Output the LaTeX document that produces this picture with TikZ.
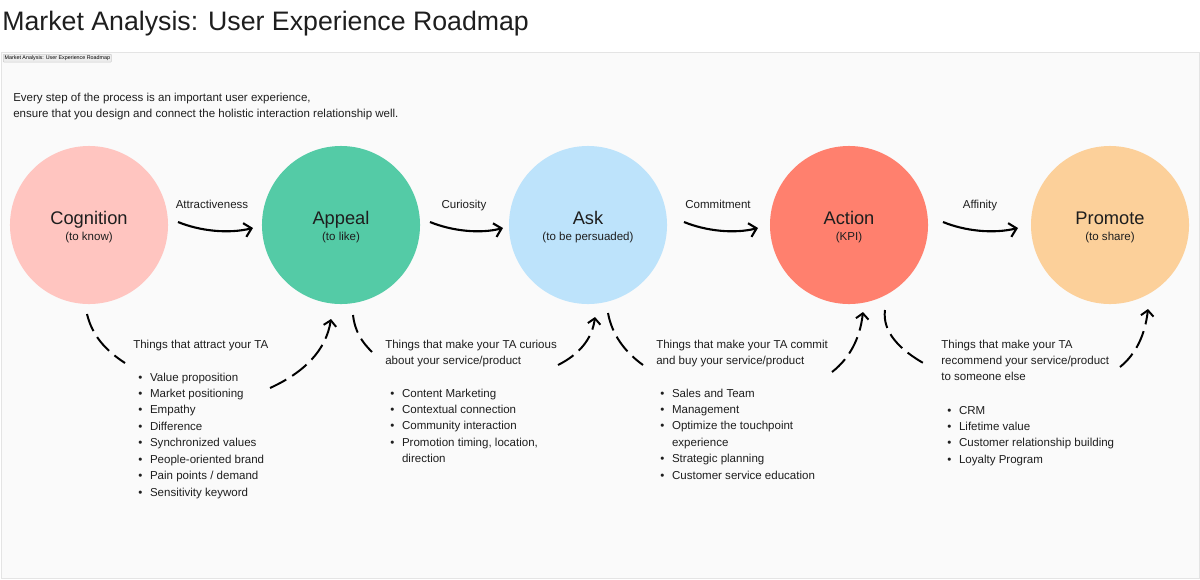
\documentclass[tikz,border=0pt]{standalone}
\usepackage{fontspec}
\setmainfont{Liberation Sans}
\usetikzlibrary{arrows.meta}
\definecolor{cogfill}{HTML}{FFC5C0}
\definecolor{appfill}{HTML}{54CBA6}
\definecolor{askfill}{HTML}{BDE3FB}
\definecolor{actfill}{HTML}{FF806E}
\definecolor{profill}{HTML}{FCD09A}
\definecolor{ink}{HTML}{1E1E1E}
\definecolor{panelbg}{HTML}{FAFAFA}
\definecolor{panelline}{HTML}{E4E4E4}
\newcommand{\notefont}{\fontsize{8.2}{11.7}\selectfont}

\begin{document}
\begin{tikzpicture}[x=0.025cm,y=-0.025cm,
  stage/.style={circle,inner sep=0,minimum size=3.95cm,draw=none},
  stagename/.style={anchor=base,inner sep=0,text=ink,font=\fontsize{13}{15}\selectfont},
  stagesub/.style={anchor=base,inner sep=0,text=ink,font=\notefont},
  note/.style={anchor=base west,inner sep=0,text=ink,font=\notefont},
  flow/.style={line width=1.5pt,-{Straight Barb[length=5pt,width=10pt]}},
  loopin/.style={line width=1.4pt,dash pattern=on 13pt off 5pt},
  loopout/.style={line width=1.4pt,dash pattern=on 13pt off 5pt,-{Straight Barb[length=4pt,width=9pt]}}]
\useasboundingbox (0,0) rectangle (1200,579);

% page and board
\node[anchor=base west,inner sep=0,text=ink,font=\fontsize{19}{22}\selectfont] (title) at (2,30)
  {Market Analysis: User Experience Roadmap};
\draw[panelline,fill=panelbg] (1,52) rectangle (1199,578);
\node[anchor=north west,inner sep=1pt,fill=black!7,draw=black!20,rounded corners=0.5pt,
  font=\fontsize{3.8}{4}\selectfont] (tab) at (3,54) {Market Analysis: User Experience Roadmap};
\node[note] (intro) at (13,101) {\begin{tabular}[t]{@{}l@{}}
  Every step of the process is an important user experience,\\
  ensure that you design and connect the holistic interaction relationship well.
  \end{tabular}};

% stages
\node[stage,fill=cogfill] (cog) at (89,225) {};
\node[stagename] (cogname) at (89,224) {Cognition};
\node[stagesub] (cogsub) at (89,240) {(to know)};
\node[stage,fill=appfill] (app) at (341,225) {};
\node[stagename] (appname) at (341,224) {Appeal};
\node[stagesub] (appsub) at (341,240) {(to like)};
\node[stage,fill=askfill] (ask) at (588,225) {};
\node[stagename] (askname) at (588,224) {Ask};
\node[stagesub] (asksub) at (588,240) {(to be persuaded)};
\node[stage,fill=actfill] (act) at (849,225) {};
\node[stagename] (actname) at (849,224) {Action};
\node[stagesub] (actsub) at (849,240) {(KPI)};
\node[stage,fill=profill] (pro) at (1110,225) {};
\node[stagename] (proname) at (1110,224) {Promote};
\node[stagesub] (prosub) at (1110,240) {(to share)};

% forward arrows
\node[stagesub] (attr) at (212,208) {Attractiveness};
\coordinate (f1a) at (178,222);
\coordinate (f1b) at (253,228);
\draw[flow] (f1a) .. controls (200,231) and (228,234) .. (f1b);
\node[stagesub] (curi) at (464,208) {Curiosity};
\coordinate (f2a) at (430,222);
\coordinate (f2b) at (503,228);
\draw[flow] (f2a) .. controls (452,231) and (480,234) .. (f2b);
\node[stagesub] (comm) at (718,208) {Commitment};
\coordinate (f3a) at (684,222);
\coordinate (f3b) at (758,228);
\draw[flow] (f3a) .. controls (706,231) and (734,234) .. (f3b);
\node[stagesub] (affi) at (980,208) {Affinity};
\coordinate (f4a) at (943,222);
\coordinate (f4b) at (1018,228);
\draw[flow] (f4a) .. controls (965,231) and (993,234) .. (f4b);

% loops under the stages
\coordinate (l1a) at (87,314);
\coordinate (l1b) at (125,363);
\draw[loopin] (l1a) .. controls (92,335) and (105,350) .. (l1b);
\coordinate (l1c) at (270,388);
\coordinate (l1d) at (331,319);
\draw[loopout] (l1c) .. controls (305,372) and (326,350) .. (l1d);

\coordinate (l2a) at (353,315);
\coordinate (l2b) at (372,352);
\draw[loopin] (l2a) .. controls (355,332) and (362,342) .. (l2b);
\coordinate (l2c) at (558,365);
\coordinate (l2d) at (595,317);
\draw[loopout] (l2c) .. controls (578,355) and (592,340) .. (l2d);

\coordinate (l3a) at (608,313);
\coordinate (l3b) at (643,365);
\draw[loopin] (l3a) .. controls (612,335) and (625,352) .. (l3b);
\coordinate (l3c) at (832,372);
\coordinate (l3d) at (863,312);
\draw[loopout] (l3c) .. controls (850,358) and (860,338) .. (l3d);

\coordinate (l4a) at (885,310);
\coordinate (l4b) at (925,364);
\draw[loopin] (l4a) .. controls (882,332) and (900,350) .. (l4b);
\coordinate (l4c) at (1120,367);
\coordinate (l4d) at (1148,309);
\draw[loopout] (l4c) .. controls (1136,354) and (1145,335) .. (l4d);

% notes
\node[note] (n1) at (133,348) {Things that attract your TA};
\node[note] (n1list) at (138,381) {\begin{tabular}[t]{@{}l@{\hspace{5.5pt}}l@{}}
  \textbullet & Value proposition\\
  \textbullet & Market positioning\\
  \textbullet & Empathy\\
  \textbullet & Difference\\
  \textbullet & Synchronized values\\
  \textbullet & People-oriented brand\\
  \textbullet & Pain points / demand\\
  \textbullet & Sensitivity keyword
  \end{tabular}};

\node[note] (n2) at (385,348) {\begin{tabular}[t]{@{}l@{}}
  Things that make your TA curious\\
  about your service/product
  \end{tabular}};
\node[note] (n2list) at (390,397) {\begin{tabular}[t]{@{}l@{\hspace{5.5pt}}l@{}}
  \textbullet & Content Marketing\\
  \textbullet & Contextual connection\\
  \textbullet & Community interaction\\
  \textbullet & Promotion timing, location,\\
  & direction
  \end{tabular}};

\node[note] (n3) at (656,348) {\begin{tabular}[t]{@{}l@{}}
  Things that make your TA commit\\
  and buy your service/product
  \end{tabular}};
\node[note] (n3list) at (660,397) {\begin{tabular}[t]{@{}l@{\hspace{5.5pt}}l@{}}
  \textbullet & Sales and Team\\
  \textbullet & Management\\
  \textbullet & Optimize the touchpoint\\
  & experience\\
  \textbullet & Strategic planning\\
  \textbullet & Customer service education
  \end{tabular}};

\node[note] (n4) at (941,348) {\begin{tabular}[t]{@{}l@{}}
  Things that make your TA\\
  recommend your service/product\\
  to someone else
  \end{tabular}};
\node[note] (n4list) at (947,414) {\begin{tabular}[t]{@{}l@{\hspace{5.5pt}}l@{}}
  \textbullet & CRM\\
  \textbullet & Lifetime value\\
  \textbullet & Customer relationship building\\
  \textbullet & Loyalty Program
  \end{tabular}};
\end{tikzpicture}
\end{document}
